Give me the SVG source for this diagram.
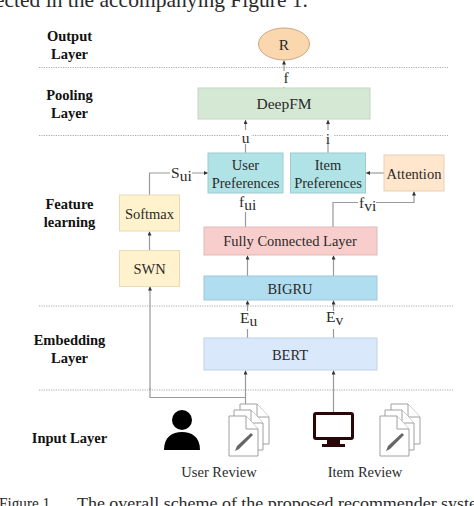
<svg xmlns="http://www.w3.org/2000/svg" xmlns:xlink="http://www.w3.org/1999/xlink" width="474" height="506" viewBox="0 0 474 506">
<style>
text{font-family:"Liberation Serif","Times New Roman",serif;fill:#2a2a2a}
.n{font-size:14.5px;text-anchor:middle}
.h{font-size:14.5px;font-weight:bold;text-anchor:middle;fill:#111}
.m{font-size:15.5px;text-anchor:middle}
.s{font-size:15.5px}
.d{stroke:#aaa;stroke-width:1;stroke-dasharray:1.2 1.2;fill:none}
.c{stroke:#999;stroke-width:1.2;fill:none}
.a{stroke:#999;stroke-width:1.2;fill:none;marker-end:url(#ah)}
.pg{fill:#fff;stroke:#a0a0a0;stroke-width:1}
</style>
<defs>
<marker id="ah" markerUnits="userSpaceOnUse" markerWidth="5" markerHeight="5" refX="4" refY="2" orient="auto"><path d="M0 0L4 2L0 4Z" fill="#333"/></marker>
<g id="page"><path class="pg" d="M0 0H17L29 13V40H0Z"/><path class="pg" d="M17 0V13H29" fill="none"/></g>
<g id="docs">
<use xlink:href="#page" href="#page" x="11" y="-12"/>
<use xlink:href="#page" href="#page" x="5" y="-6"/>
<use xlink:href="#page" href="#page" x="0" y="0"/>
<path d="M6 35L8 30L22 17L24 19L10 33Z" fill="#666"/>
</g>
</defs>
<rect width="474" height="506" fill="#fff"/>
<text x="-5" y="7" font-size="21" textLength="313" lengthAdjust="spacingAndGlyphs">ected in the accompanying Figure 1.</text>
<g id="separators">
<path class="d" d="M39 67.5H448"/><path class="d" d="M39 135.5H448"/><path class="d" d="M39 306H454"/><path class="d" d="M39 390H454"/>
</g>
<g id="layer-labels">
<text class="h" x="69.500" y="41">Output</text><text class="h" x="69.500" y="59">Layer</text>
<text class="h" x="69.500" y="100">Pooling</text><text class="h" x="69.500" y="118">Layer</text>
<text class="h" x="69.500" y="209">Feature</text><text class="h" x="69.500" y="227">learning</text>
<text class="h" x="69.500" y="345">Embedding</text><text class="h" x="69.500" y="363">Layer</text>
<text class="h" x="69.500" y="443">Input Layer</text>
</g>
<g id="connectors">
<path class="a" d="M284 88V60.500"/>
<path class="a" d="M245.500 153V120"/>
<path class="a" d="M328 153V120"/>
<path class="a" d="M149.500 195V173H208"/>
<path class="a" d="M149.500 250V231.500"/>
<path class="a" d="M150 390V286.500"/>
<path class="c" d="M150 388V397.500H245.500"/>
<path class="a" d="M245.500 227V194"/>
<path class="a" d="M333 227V202.500H414V191.500"/>
<path class="a" d="M384 173H366"/>
<path class="a" d="M247.500 276V255.500"/>
<path class="a" d="M333.500 276V255.500"/>
<path class="a" d="M247.500 338V300.500"/>
<path class="a" d="M333.500 338V300.500"/>
<path class="a" d="M245.500 404V370.500"/>
<path class="a" d="M333.500 412V370.500"/>
</g>
<g id="connector-labels">
<rect x="280" y="71" width="9" height="16" fill="#fff"/><text class="m" x="286" y="83">f</text>
<rect x="240" y="130" width="11" height="14" fill="#fff"/><text class="m" x="245.500" y="143">u</text>
<rect x="323" y="130" width="10" height="14" fill="#fff"/><text class="m" x="328" y="144">i</text>
<rect x="170" y="165" width="22" height="18" fill="#fff"/><text class="s" x="171" y="178">S<tspan dy="3">ui</tspan></text>
<rect x="238" y="194" width="18" height="18" fill="#fff"/><text class="s" x="239" y="207">f<tspan dy="3">ui</tspan></text>
<rect x="358" y="195" width="18" height="16" fill="#fff"/><text class="s" x="359" y="208">f<tspan dy="3">vi</tspan></text>
<rect x="239" y="311" width="18" height="18" fill="#fff"/><text class="s" x="240" y="323">E<tspan dy="3">u</tspan></text>
<rect x="325" y="311" width="18" height="18" fill="#fff"/><text class="s" x="326" y="322">E<tspan dy="3">v</tspan></text>
</g>
<g id="node-r"><ellipse cx="284" cy="44" rx="25.500" ry="16" fill="#fad7ac" stroke="#c9a986"/><text class="m" x="284" y="50">R</text></g>
<g id="node-deepfm"><rect x="198" y="88" width="172" height="31" fill="#d5e8d4" stroke="#c4d6c2"/><text class="m" x="284" y="109">DeepFM</text></g>
<g id="node-user-pref"><rect x="208" y="153" width="75" height="40" fill="#b0e3e6" stroke="#9dcbd0"/><text class="n" x="245.500" y="170">User</text><text class="n" x="245.500" y="188">Preferences</text></g>
<g id="node-item-pref"><rect x="290.500" y="153" width="75" height="40" fill="#b0e3e6" stroke="#9dcbd0"/><text class="n" x="328" y="170">Item</text><text class="n" x="328" y="188">Preferences</text></g>
<g id="node-attention"><rect x="384" y="155" width="60" height="36" fill="#ffe6cc" stroke="#e6d0b4"/><text class="n" x="414" y="179">Attention</text></g>
<g id="node-softmax"><rect x="119.500" y="195" width="60" height="36" fill="#fff2cc" stroke="#e8dcb8"/><text class="n" x="149.500" y="219">Softmax</text></g>
<g id="node-swn"><rect x="119.500" y="250.500" width="60" height="36" fill="#fff2cc" stroke="#e8dcb8"/><text class="n" x="149.500" y="274">SWN</text></g>
<g id="node-fc"><rect x="204" y="227" width="173" height="28" fill="#f8cecc" stroke="#e0b9b7"/><text class="n" x="290" y="246">Fully Connected Layer</text></g>
<g id="node-bigru"><rect x="204" y="276" width="173" height="24" fill="#b1ddf0" stroke="#9ec8da"/><text class="n" x="290" y="294">BIGRU</text></g>
<g id="node-bert"><rect x="204" y="338" width="173" height="32" fill="#dae8fc" stroke="#bfd0e6"/><text class="n" x="290" y="360">BERT</text></g>
<g id="node-user-review">
<circle cx="182" cy="420" r="10" fill="#000"/>
<path d="M164 450C164 437 172 432 182 432C192 432 200 437 200 450Z" fill="#000"/>
<use xlink:href="#docs" href="#docs" x="229" y="416"/>
<text class="n" x="219" y="477">User Review</text>
</g>
<g id="node-item-review">
<rect x="314.500" y="413.500" width="38" height="25" rx="1.500" fill="#fff" stroke="#2a0606" stroke-width="3"/>
<path d="M327 440H340V444H345V447H322V444H327Z" fill="#2a0606"/>
<use xlink:href="#docs" href="#docs" x="380" y="416"/>
<text class="n" x="365" y="477">Item Review</text>
</g>
<g id="caption">
<text x="-1" y="509" font-size="17" textLength="55" lengthAdjust="spacingAndGlyphs">Figure 1.</text>
<text x="77" y="509" font-size="17" textLength="400" lengthAdjust="spacingAndGlyphs">The overall scheme of the proposed recommender syste</text>
</g>
</svg>
